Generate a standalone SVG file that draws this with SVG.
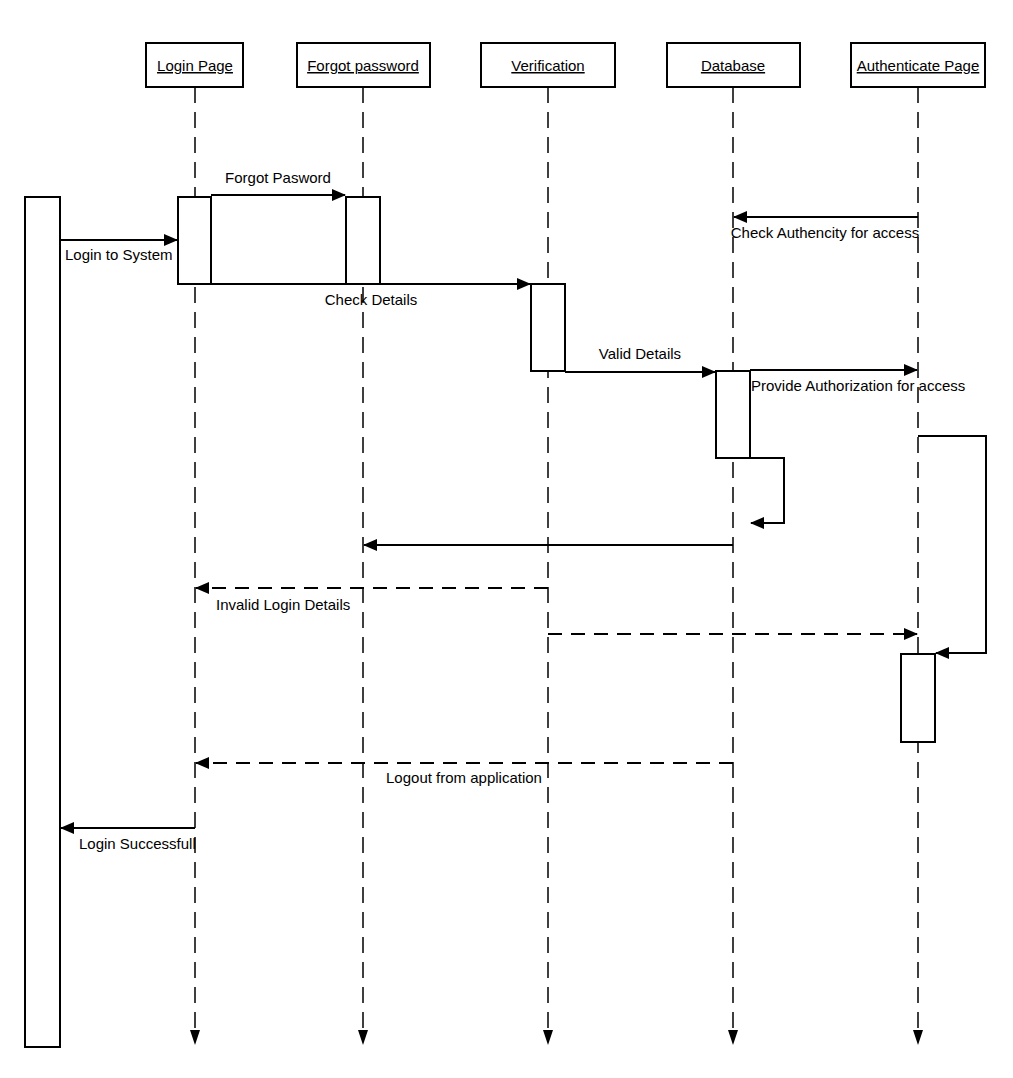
<svg xmlns="http://www.w3.org/2000/svg" width="1013" height="1078" viewBox="0 0 1013 1078">
<style>
text{font-family:"Liberation Sans",Arial,sans-serif;font-size:15px;fill:#000}
.hd{text-decoration:underline;text-anchor:middle}
.box{fill:#fff;stroke:#000;stroke-width:2}
.life{stroke:#000;stroke-width:1.5;stroke-dasharray:16,9;fill:none}
.m{stroke:#000;stroke-width:2;fill:none;marker-end:url(#ah)}
.d{stroke:#000;stroke-width:2;fill:none;stroke-dasharray:14,9;marker-end:url(#ah)}
</style>
<defs>
<marker id="ah" markerWidth="14" markerHeight="12" refX="13" refY="6" orient="auto" markerUnits="userSpaceOnUse"><path d="M0,0 L14,6 L0,12 Z" fill="#000"/></marker>
</defs>
<rect width="1013" height="1078" fill="#fff"/>
<g id="lifelines">
<path class="life" d="M195,87V1030M363,87V1030M548,87V1030M733,87V1030M918,87V1030"/>
<path d="M190,1030L195,1045L200,1030ZM358,1030L363,1045L368,1030ZM543,1030L548,1045L553,1030ZM728,1030L733,1045L738,1030ZM913,1030L918,1045L923,1030Z" fill="#000"/>
</g>
<g id="login-page"><rect class="box" x="146" y="43" width="97" height="44"/><text class="hd" x="195" y="71">Login Page</text></g>
<g id="forgot-password"><rect class="box" x="297" y="43" width="133" height="44"/><text class="hd" x="363" y="71">Forgot password</text></g>
<g id="verification"><rect class="box" x="481" y="43" width="134" height="44"/><text class="hd" x="548" y="71">Verification</text></g>
<g id="database"><rect class="box" x="667" y="43" width="133" height="44"/><text class="hd" x="733" y="71">Database</text></g>
<g id="authenticate-page"><rect class="box" x="851" y="43" width="134" height="44"/><text class="hd" x="918" y="71">Authenticate Page</text></g>
<g id="activations">
<rect class="box" x="25" y="197" width="35" height="850"/>
<rect class="box" x="178" y="197" width="33" height="87"/>
<rect class="box" x="346" y="197" width="34" height="87"/>
<rect class="box" x="531" y="284" width="34" height="87"/>
<rect class="box" x="716" y="371" width="34" height="87"/>
<rect class="box" x="901" y="654" width="34" height="88"/>
</g>
<g id="connectors">
<path class="m" d="M211,195H345"/>
<path class="m" d="M918,217H734"/>
<path class="m" d="M60,240H177"/>
<path class="m" d="M211,284H530"/>
<path class="m" d="M565,372H715"/>
<path class="m" d="M750,370H917"/>
<path class="m" d="M750,458H784V523H751"/>
<path class="m" d="M918,436H986V653H936"/>
<path class="m" d="M733,545H364"/>
<path class="d" d="M548,588H196"/>
<path class="d" d="M548,634H917"/>
<path class="d" d="M733,763H196"/>
<path class="m" d="M195,828H61"/>
</g>
<g id="labels">
<text x="278" y="183" text-anchor="middle">Forgot Pasword</text>
<text x="825" y="238" text-anchor="middle">Check Authencity for access</text>
<text x="65" y="260">Login to System</text>
<text x="371" y="305" text-anchor="middle">Check Details</text>
<text x="640" y="359" text-anchor="middle">Valid Details</text>
<text x="751" y="391">Provide Authorization for access</text>
<text x="216" y="610">Invalid Login Details</text>
<text x="464" y="783" text-anchor="middle">Logout from application</text>
<text x="79" y="849">Login Successfull</text>
</g>
</svg>
